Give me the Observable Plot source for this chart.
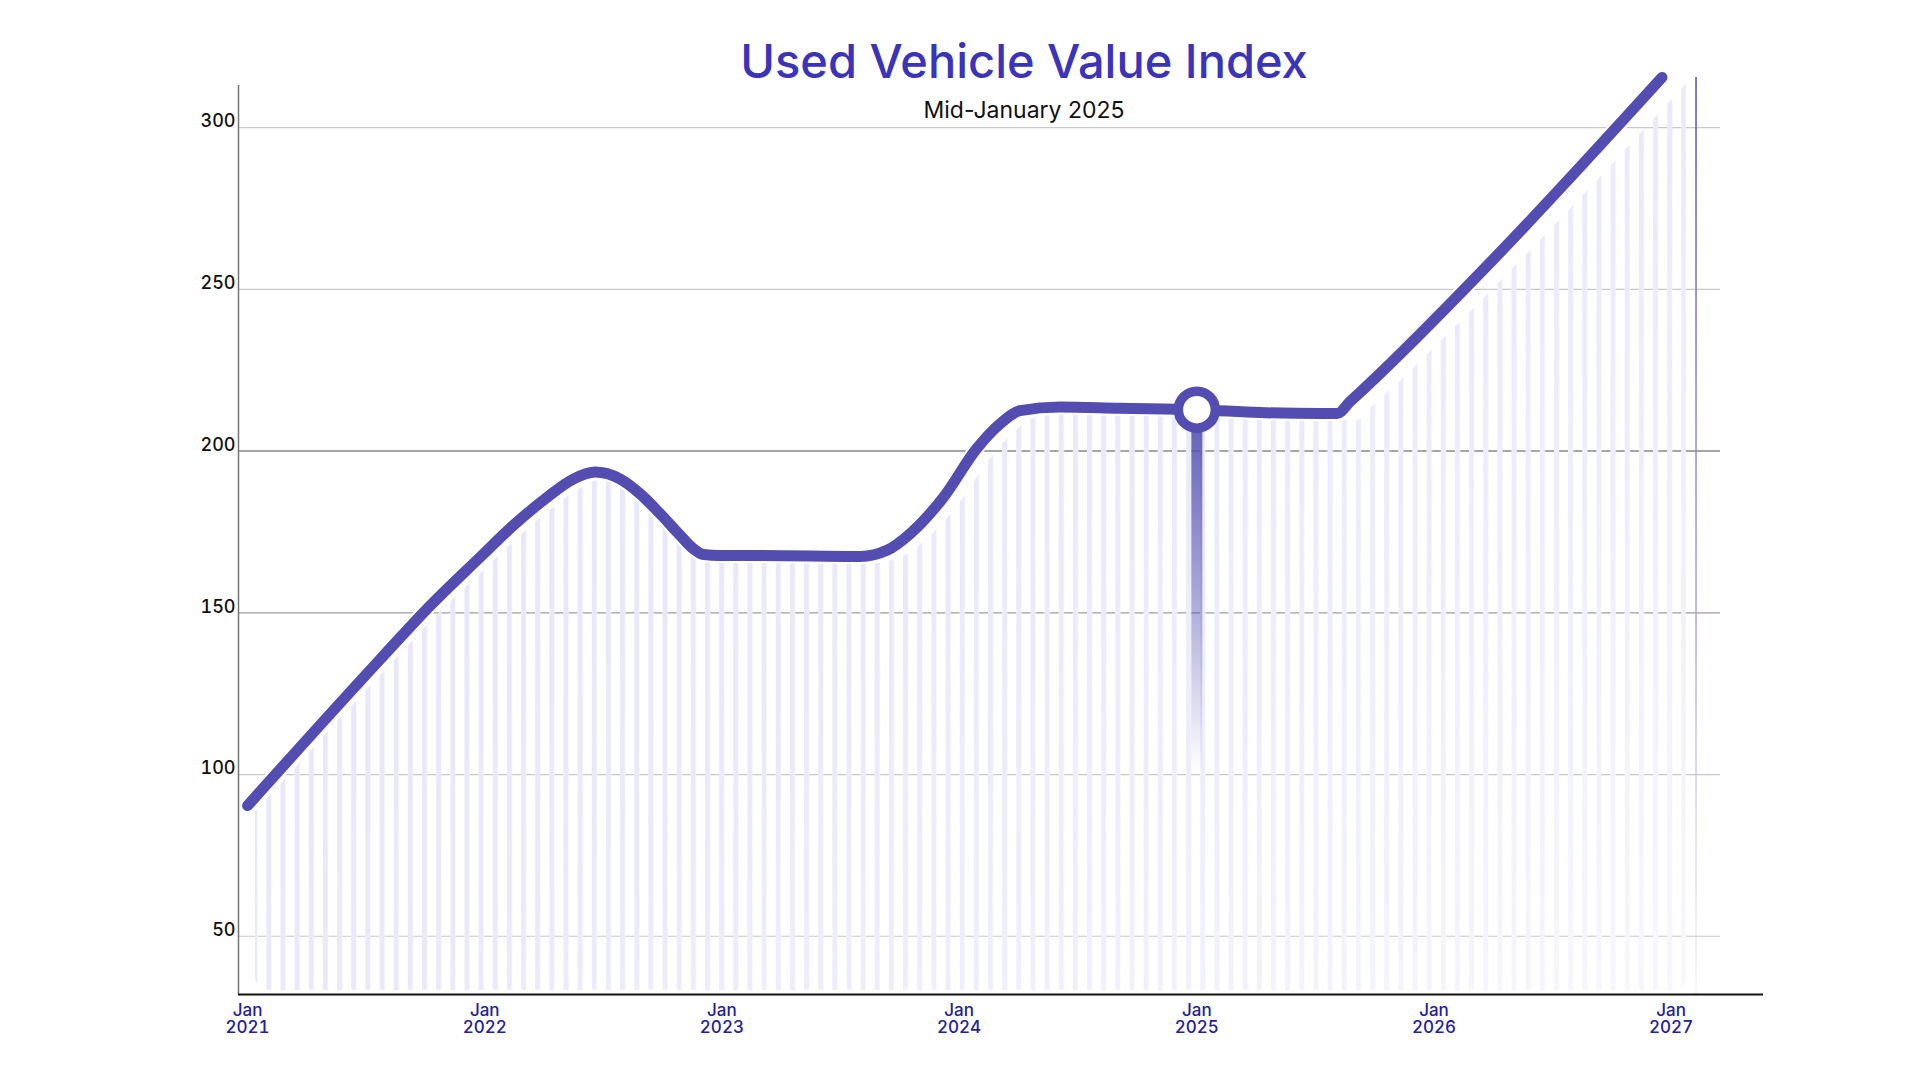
<!DOCTYPE html>
<html>
<head>
<meta charset="utf-8">
<script src="https://cdn.jsdelivr.net/npm/d3@7"></script>
<script src="https://cdn.jsdelivr.net/npm/@observablehq/plot@0.6"></script>
<style>
  html, body { margin: 0; padding: 0; background: #fff; }
  #wrap { position: relative; width: 1920px; height: 1080px; overflow: hidden; font-family: Inter, sans-serif; }
  #title { position: absolute; left: 1024px; top: 37px; transform: translateX(-50%); white-space: nowrap;
           font-size: 47px; line-height: 47px; color: #3b33b8; font-weight: 500; }
  #subtitle { position: absolute; left: 1024px; top: 99px; transform: translateX(-50%); white-space: nowrap;
              font-size: 23px; line-height: 23px; color: #111; }
  #chart { position: absolute; left: 0; top: 0; }
</style>
</head>
<body>
<div id="wrap">
  <div id="chart"></div>
  <div id="title">Used Vehicle Value Index</div>
  <div id="subtitle">Mid-January 2025</div>
</div>
<script>
// ---- data ----
const dates = ["2021-01-15","2021-08-07","2021-10-25","2022-01-08","2022-02-28","2022-04-21","2022-06-01",
               "2022-07-04","2022-08-11","2022-09-11","2022-10-12","2022-11-12","2022-12-02","2022-12-18",
               "2023-01-12","2023-03-15","2023-08-16","2023-09-26","2023-11-01","2023-12-22","2024-02-11",
               "2024-03-18","2024-04-18","2024-06-18","2024-09-19","2025-01-15","2025-04-22","2025-07-24",
               "2025-08-19","2025-09-08","2025-10-24","2026-04-27","2027-01-01"];
const values = [90.4,135.6,152.6,167.2,177.0,185.7,191.4,
                193.5,191.4,186.8,180.6,173.9,169.8,168.0,
                167.7,167.7,167.4,169.3,174.5,185.7,200.7,
                208.4,212.5,213.6,213.2,212.8,211.9,211.6,
                211.6,215.3,224.0,261.5,315.5];
const highlightDate = "2025-01-15";
const highlightValue = 212.8;
const highlightFloor = 100;
const yTicks = [50, 100, 150, 200, 250, 300];
const yTicksLight = [50, 100, 250, 300];
const yTicksMid = [150];
const yTicksDark = [200];
const tickYears = [2021, 2022, 2023, 2024, 2025, 2026, 2027];
const xDomain = [new Date("2021-01-01"), new Date("2027-04-01")];
const yDomain = [32, 313];

const data = dates.map((d, i) => ({date: new Date(d), value: values[i]}));
const highlight = {date: new Date(highlightDate), value: highlightValue};
const last = data[data.length - 1];
const xTicks = tickYears.map(y => new Date(Date.UTC(y, 0, 15)));

const lineColor = "#534cb1";

const plot = Plot.plot({
  width: 1920,
  height: 1080,
  marginLeft: 238,
  marginRight: 200,
  marginTop: 85,
  marginBottom: 86,
  style: {fontFamily: "Inter, sans-serif", background: "transparent", overflow: "visible"},
  x: {type: "utc", domain: xDomain},
  y: {domain: yDomain},
  marks: [
    Plot.gridY(yTicksLight, {stroke: "#c8c8c8", strokeOpacity: 1, strokeWidth: 1.2}),
    Plot.gridY(yTicksMid, {stroke: "#9c9c9c", strokeOpacity: 1, strokeWidth: 1.3}),
    Plot.gridY(yTicksDark, {stroke: "#a6a6a6", strokeOpacity: 1, strokeWidth: 2}),
    Plot.areaY(data, {x: "date", y: "value", curve: "monotone-x", fill: "url(#stripesBase)"}),
    Plot.areaY(data, {x: "date", y: "value", curve: "monotone-x", fill: "url(#stripes)"}),
    Plot.ruleX([last], {x: "date", y1: "value", y2: yDomain[0], stroke: "url(#edgeGrad)", strokeWidth: 1.6, dx: 34}),
    Plot.line(data, {x: "date", y: "value", curve: "monotone-x", stroke: "white", strokeWidth: 15,
                     strokeLinecap: "round", strokeLinejoin: "round"}),
    Plot.ruleX([highlight], {x: "date", y1: "value", y2: highlightFloor, stroke: "url(#ruleGrad)", strokeWidth: 11}),
    Plot.line(data, {x: "date", y: "value", curve: "monotone-x", stroke: lineColor, strokeWidth: 11,
                     strokeLinecap: "round", strokeLinejoin: "round"}),
    Plot.dot([highlight], {x: "date", y: "value", r: 18.5, fill: "white", stroke: lineColor, strokeWidth: 9.5}),
    Plot.ruleX([xDomain[0]], {stroke: "#767676", strokeWidth: 1.5}),
    Plot.ruleY([yDomain[0]], {stroke: "#111", strokeWidth: 2, insetRight: -43}),
    Plot.axisY(yTicks, {tickSize: 0, tickPadding: 3, fontSize: 18, fontWeight: 500, color: "#111", dy: -6, label: null}),
    Plot.axisX(xTicks, {tickSize: 0, tickPadding: 9, fontSize: 17, fontWeight: 500, lineHeight: 1.02, color: "#23209c",
                        tickFormat: d => "Jan\n" + d.getUTCFullYear(), label: null})
  ]
});

document.getElementById("chart").appendChild(plot);

// ---- decorative defs (stripes, fades, clip) derived from the plot's scales ----
const xs = plot.scale("x"), ys = plot.scale("y");
const svg = d3.select(plot);
const defs = svg.insert("defs", ":first-child");

// the striped fill sits slightly offset (and stretched) behind the line
const sx = 1.0118, tx = 4.65, ty = 7;
const stripeStart = 252.2, stripeStep = 14.15, stripeW = 5;

function pattern(id, color) {
  const p = defs.append("pattern").attr("id", id).attr("patternUnits", "userSpaceOnUse")
    .attr("x", (stripeStart - tx) / sx).attr("y", 0).attr("width", stripeStep / sx).attr("height", 10);
  p.append("rect").attr("x", 0).attr("y", 0).attr("width", stripeW / sx).attr("height", 10).attr("fill", color);
}
pattern("stripesBase", "#ffffff");
pattern("stripes", "#e4e4f9");

const ax1 = xs.apply(data[0].date);
const ax2 = xs.apply(last.date) + 1;
const aBottom = ys.apply(yDomain[0]) - 4 - ty;

const fg = defs.append("linearGradient").attr("id", "fadeGrad")
  .attr("x1", 0).attr("y1", 0).attr("x2", 1).attr("y2", 1);
fg.append("stop").attr("offset", "0").attr("stop-color", "#fff").attr("stop-opacity", 1);
fg.append("stop").attr("offset", "0.55").attr("stop-color", "#fff").attr("stop-opacity", 0.8);
fg.append("stop").attr("offset", "1").attr("stop-color", "#fff").attr("stop-opacity", 0.3);

const mask = defs.append("mask").attr("id", "fade").attr("maskUnits", "userSpaceOnUse")
  .attr("x", 0).attr("y", 0).attr("width", 1920).attr("height", 1080);
mask.append("rect").attr("x", ax1).attr("y", 0).attr("width", ax2 - ax1).attr("height", aBottom)
  .attr("fill", "url(#fadeGrad)");

const clip = defs.append("clipPath").attr("id", "areaClip");
clip.append("rect").attr("x", ax1).attr("y", 0).attr("width", ax2 - ax1).attr("height", aBottom)
  .attr("rx", 15).attr("ry", 15);

const rg = defs.append("linearGradient").attr("id", "ruleGrad").attr("gradientUnits", "userSpaceOnUse")
  .attr("x1", 0).attr("x2", 0).attr("y1", ys.apply(highlightValue)).attr("y2", ys.apply(highlightFloor));
rg.append("stop").attr("offset", "0").attr("stop-color", lineColor).attr("stop-opacity", 0.92);
rg.append("stop").attr("offset", "0.5").attr("stop-color", lineColor).attr("stop-opacity", 0.5);
rg.append("stop").attr("offset", "1").attr("stop-color", lineColor).attr("stop-opacity", 0);

const eg = defs.append("linearGradient").attr("id", "edgeGrad").attr("gradientUnits", "userSpaceOnUse")
  .attr("x1", 0).attr("x2", 0).attr("y1", ys.apply(last.value)).attr("y2", ys.apply(yDomain[0]) - 4);
eg.append("stop").attr("offset", "0").attr("stop-color", "#5f58b6").attr("stop-opacity", 1);
eg.append("stop").attr("offset", "0.6").attr("stop-color", "#9d98d6").attr("stop-opacity", 0.8);
eg.append("stop").attr("offset", "1").attr("stop-color", "#d6d4f0").attr("stop-opacity", 0.3);

const areas = plot.querySelectorAll('g[aria-label="area"]');
areas.forEach((g, i) => {
  g.setAttribute("transform", `translate(${tx},${ty}) scale(${sx},1)`);
  g.setAttribute("clip-path", "url(#areaClip)");
  if (i === 1) g.setAttribute("mask", "url(#fade)");
});
</script>
</body>
</html>
